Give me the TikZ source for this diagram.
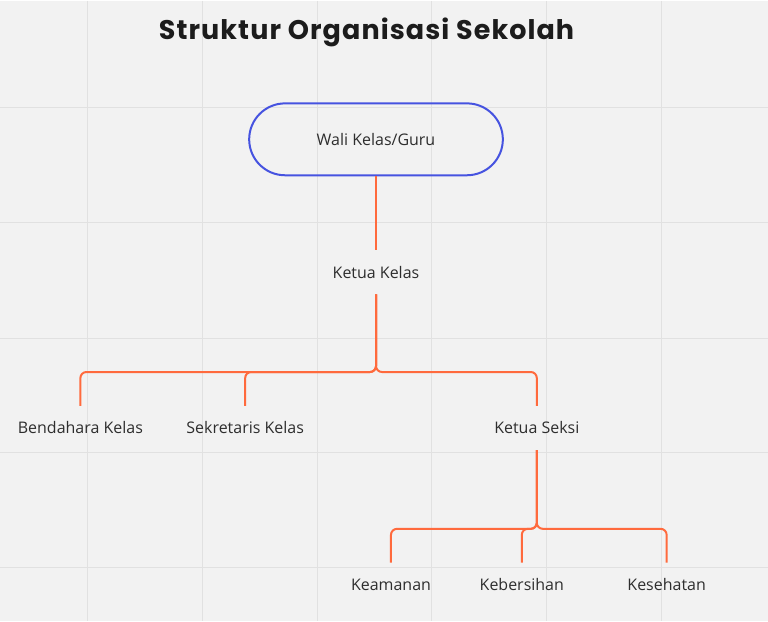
\documentclass[tikz,border=0pt]{standalone}
\usepackage{fontspec}
\setmainfont{Open Sans}
\newfontfamily\titlefont{Poppins}[LetterSpace=4]
\usepackage{tikz}
\usetikzlibrary{positioning,shapes.misc}
\definecolor{colorbg}{HTML}{F2F2F2}
\definecolor{colorgrid}{HTML}{E1E1E1}
\definecolor{colorwali}{HTML}{4653E0}
\definecolor{colororg}{HTML}{FF6A3D}
\definecolor{colortext}{HTML}{2E2E2E}
\definecolor{colortitle}{HTML}{1C1C1C}
\tikzset{
  jabatan/.style={draw=none, inner sep=0pt, minimum height=44pt,
    text=colortext, font=\fontsize{16}{19}\selectfont},
  walibox/.style={rounded rectangle, draw=colorwali, line width=2pt,
    minimum width=254pt, minimum height=72pt, inner sep=0pt,
    text=colortext, font=\fontsize{16}{19}\selectfont},
  judul/.style={inner sep=0pt, text=colortitle,
    font=\titlefont\bfseries\fontsize{27}{31}\selectfont},
  edgeorg/.style={colororg, line width=2pt, rounded corners=6pt},
  gridline/.style={colorgrid, line width=1pt}
}

\begin{document}
\begin{tikzpicture}[x=1pt, y=-1pt]
% background and grid
\fill[colorbg] (0,0) rectangle (768,621);
\foreach \gx in {87,202,317,432,547,662}
  \draw[gridline] (\gx,0) -- (\gx,621);
\foreach \gy in {107,222,338,453,568}
  \draw[gridline] (0,\gy) -- (768,\gy);
\useasboundingbox (0,0) rectangle (768,621);

\node[judul](judul) at (366.5,32) {Struktur Organisasi Sekolah};

\node[walibox](wali) at (376,139) {Wali Kelas/Guru};

\node[jabatan](ketua) at (376,272) {Ketua Kelas};

\node[jabatan](bendahara) at (80,428) {Bendahara Kelas};
\node[jabatan](sekretaris) at (245,428) {Sekretaris Kelas};
\node[jabatan](seksi) at (537,428) {Ketua Seksi};

\node[jabatan](keamanan) at (391,585) {Keamanan};
\node[jabatan](kebersihan) at (522,585) {Kebersihan};
\node[jabatan](kesehatan) at (667,585) {Kesehatan};

\coordinate (bagi1) at (376,372);
\coordinate (bagi2) at (537,529);

\draw[edgeorg] (wali.south) -- (ketua.north);

\draw[edgeorg] (ketua.south) -- (bagi1) -| (bendahara.north);
\draw[edgeorg] (ketua.south) -- (bagi1) -| (sekretaris.north);
\draw[edgeorg] (ketua.south) -- (bagi1) -| (seksi.north);

\draw[edgeorg] (seksi.south) -- (bagi2) -| (keamanan.north);
\draw[edgeorg] (seksi.south) -- (bagi2) -| (kebersihan.north);
\draw[edgeorg] (seksi.south) -- (bagi2) -| (kesehatan.north);
\end{tikzpicture}
\end{document}
